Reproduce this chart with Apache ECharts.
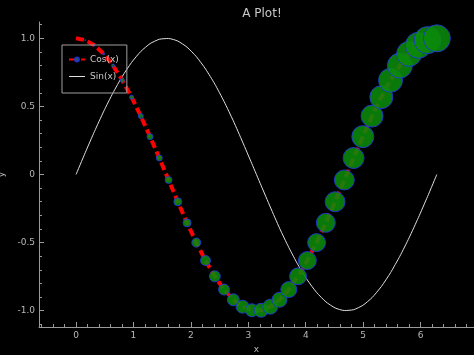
<!DOCTYPE html>
<html>
<head>
<meta charset="utf-8">
<script src="https://cdn.jsdelivr.net/npm/echarts@6/dist/echarts.min.js"></script>
<style>
  html, body { margin: 0; padding: 0; background: #000; }
  #chart { width: 474px; height: 355px; }
</style>
</head>
<body>
<div id="chart"></div>
<script>
// sample positions along x (0 .. 2pi, 40 points)
const xs = [0.000, 0.161, 0.322, 0.483, 0.644, 0.806, 0.967, 1.128, 1.289, 1.450,
  1.611, 1.772, 1.933, 2.094, 2.255, 2.417, 2.578, 2.739, 2.900, 3.061,
  3.222, 3.383, 3.544, 3.705, 3.866, 4.028, 4.189, 4.350, 4.511, 4.672,
  4.833, 4.994, 5.155, 5.316, 5.477, 5.639, 5.800, 5.961, 6.122, 6.283];
const cosVals = [1.000, 0.987, 0.949, 0.886, 0.800, 0.692, 0.568, 0.429, 0.278, 0.121,
  -0.040, -0.200, -0.355, -0.500, -0.632, -0.748, -0.845, -0.920, -0.971, -0.997,
  -0.997, -0.971, -0.920, -0.845, -0.748, -0.632, -0.500, -0.355, -0.200, -0.040,
  0.121, 0.278, 0.429, 0.568, 0.692, 0.800, 0.886, 0.949, 0.987, 1.000];
const sinVals = [0.000, 0.161, 0.317, 0.465, 0.600, 0.721, 0.823, 0.904, 0.961, 0.993,
  0.999, 0.980, 0.935, 0.866, 0.775, 0.664, 0.536, 0.394, 0.239, 0.080,
  -0.080, -0.239, -0.394, -0.536, -0.664, -0.775, -0.866, -0.935, -0.980, -0.999,
  -0.993, -0.961, -0.904, -0.823, -0.721, -0.600, -0.465, -0.317, -0.161, 0.000];
// marker diameters for the Cos(x) points
const markerSizes = [0, 1, 1, 2, 3, 4, 4, 5, 6, 6, 7, 8, 8, 9, 10, 11, 11, 12, 13, 13,
  14, 15, 15, 16, 17, 18, 18, 19, 20, 20, 21, 22, 22, 23, 24, 25, 25, 26, 27, 27];

const xTicks = [0, 1, 2, 3, 4, 5, 6];
const xMinorTicks = [-0.6, -0.4, -0.2, 0.2, 0.4, 0.6, 0.8, 1.2, 1.4, 1.6, 1.8, 2.2, 2.4, 2.6, 2.8,
  3.2, 3.4, 3.6, 3.8, 4.2, 4.4, 4.6, 4.8, 5.2, 5.4, 5.6, 5.8, 6.2, 6.4, 6.6, 6.8];
const yTicks = [-1, -0.5, 0, 0.5, 1];
const yMinorTicks = [-1.1, -0.9, -0.8, -0.7, -0.6, -0.4, -0.3, -0.2, -0.1,
  0.1, 0.2, 0.3, 0.4, 0.6, 0.7, 0.8, 0.9, 1.1];

const axisColor = '#9a9a9a';
const textColor = '#b8b8b8';
const font = 'DejaVu Sans';

const cosData = xs.map((x, i) => ({ value: [x, cosVals[i]], symbolSize: markerSizes[i] }));
const sinData = xs.map((x, i) => [x, sinVals[i]]);

const chart = echarts.init(document.getElementById('chart'));
chart.setOption({
  animation: false,
  backgroundColor: '#000',
  textStyle: { fontFamily: font },
  title: {
    text: 'A Plot!',
    left: 257,
    textAlign: 'center',
    top: 3,
    textStyle: { color: '#c8c8c8', fontSize: 12, fontWeight: 'normal', fontFamily: font }
  },
  legend: {
    orient: 'vertical',
    left: 62,
    top: 45,
    padding: [10, 8, 12, 6],
    itemGap: 8,
    itemWidth: 16,
    itemHeight: 5,
    borderColor: '#a0a0a0',
    borderWidth: 1,
    textStyle: { color: '#c8c8c8', fontSize: 9, fontFamily: font },
    data: [
      { name: 'Cos(x)' },
      { name: 'Sin(x)', icon: 'path://M0,0 L16,0 L16,1 L0,1 Z', itemStyle: { color: '#e0e0e0' } }
    ]
  },
  grid: { left: 39, right: 0, top: 22, bottom: 28, containLabel: false, outerBoundsMode: 'none' },
  xAxis: [
    {
      type: 'value',
      min: -0.645,
      max: 6.93,
      name: 'x',
      nameLocation: 'middle',
      nameGap: 18,
      nameTextStyle: { color: textColor, fontSize: 9 },
      axisLine: { show: true, onZero: false, lineStyle: { color: axisColor, width: 1 } },
      axisTick: { show: true, inside: true, length: 5, customValues: xTicks, lineStyle: { color: axisColor } },
      axisLabel: { customValues: xTicks, color: textColor, fontSize: 9, margin: 4 },
      splitLine: { show: false }
    },
    {
      type: 'value',
      min: -0.645,
      max: 6.93,
      position: 'bottom',
      axisLine: { show: false, onZero: false },
      axisTick: { show: true, inside: true, length: 3, customValues: xMinorTicks, lineStyle: { color: axisColor } },
      axisLabel: { show: false },
      splitLine: { show: false }
    }
  ],
  yAxis: [
    {
      type: 'value',
      min: -1.12,
      max: 1.12,
      name: 'y',
      nameLocation: 'middle',
      nameGap: 33,
      nameMoveOverlap: false,
      nameTextStyle: { color: textColor, fontSize: 9 },
      axisLine: { show: true, onZero: false, lineStyle: { color: axisColor, width: 1 } },
      axisTick: { show: true, inside: true, length: 5, customValues: yTicks, lineStyle: { color: axisColor } },
      axisLabel: {
        customValues: yTicks,
        color: textColor,
        fontSize: 9,
        margin: 4,
        formatter: v => (v === 0 ? '0' : v.toFixed(1))
      },
      splitLine: { show: false }
    },
    {
      type: 'value',
      min: -1.12,
      max: 1.12,
      position: 'left',
      axisLine: { show: false, onZero: false },
      axisTick: { show: true, inside: true, length: 3, customValues: yMinorTicks, lineStyle: { color: axisColor } },
      axisLabel: { show: false },
      splitLine: { show: false }
    }
  ],
  series: [
    {
      name: 'Sin(x)',
      type: 'line',
      data: sinData,
      showSymbol: false,
      symbol: 'none',
      smooth: 0.2,
      lineStyle: { color: '#e0e0e0', width: 1 },
      itemStyle: { color: '#e0e0e0' },
      z: 2
    },
    {
      name: 'Cos(x)',
      type: 'line',
      data: cosData,
      symbol: 'circle',
      symbolSize: 6,
      showAllSymbol: true,
      lineStyle: { color: '#ff0000', width: 4, type: [8, 4] },
      itemStyle: { color: '#0a8a0a', borderColor: '#2233dd', borderWidth: 1, opacity: 0.88 },
      z: 3
    }
  ]
});
</script>
</body>
</html>
